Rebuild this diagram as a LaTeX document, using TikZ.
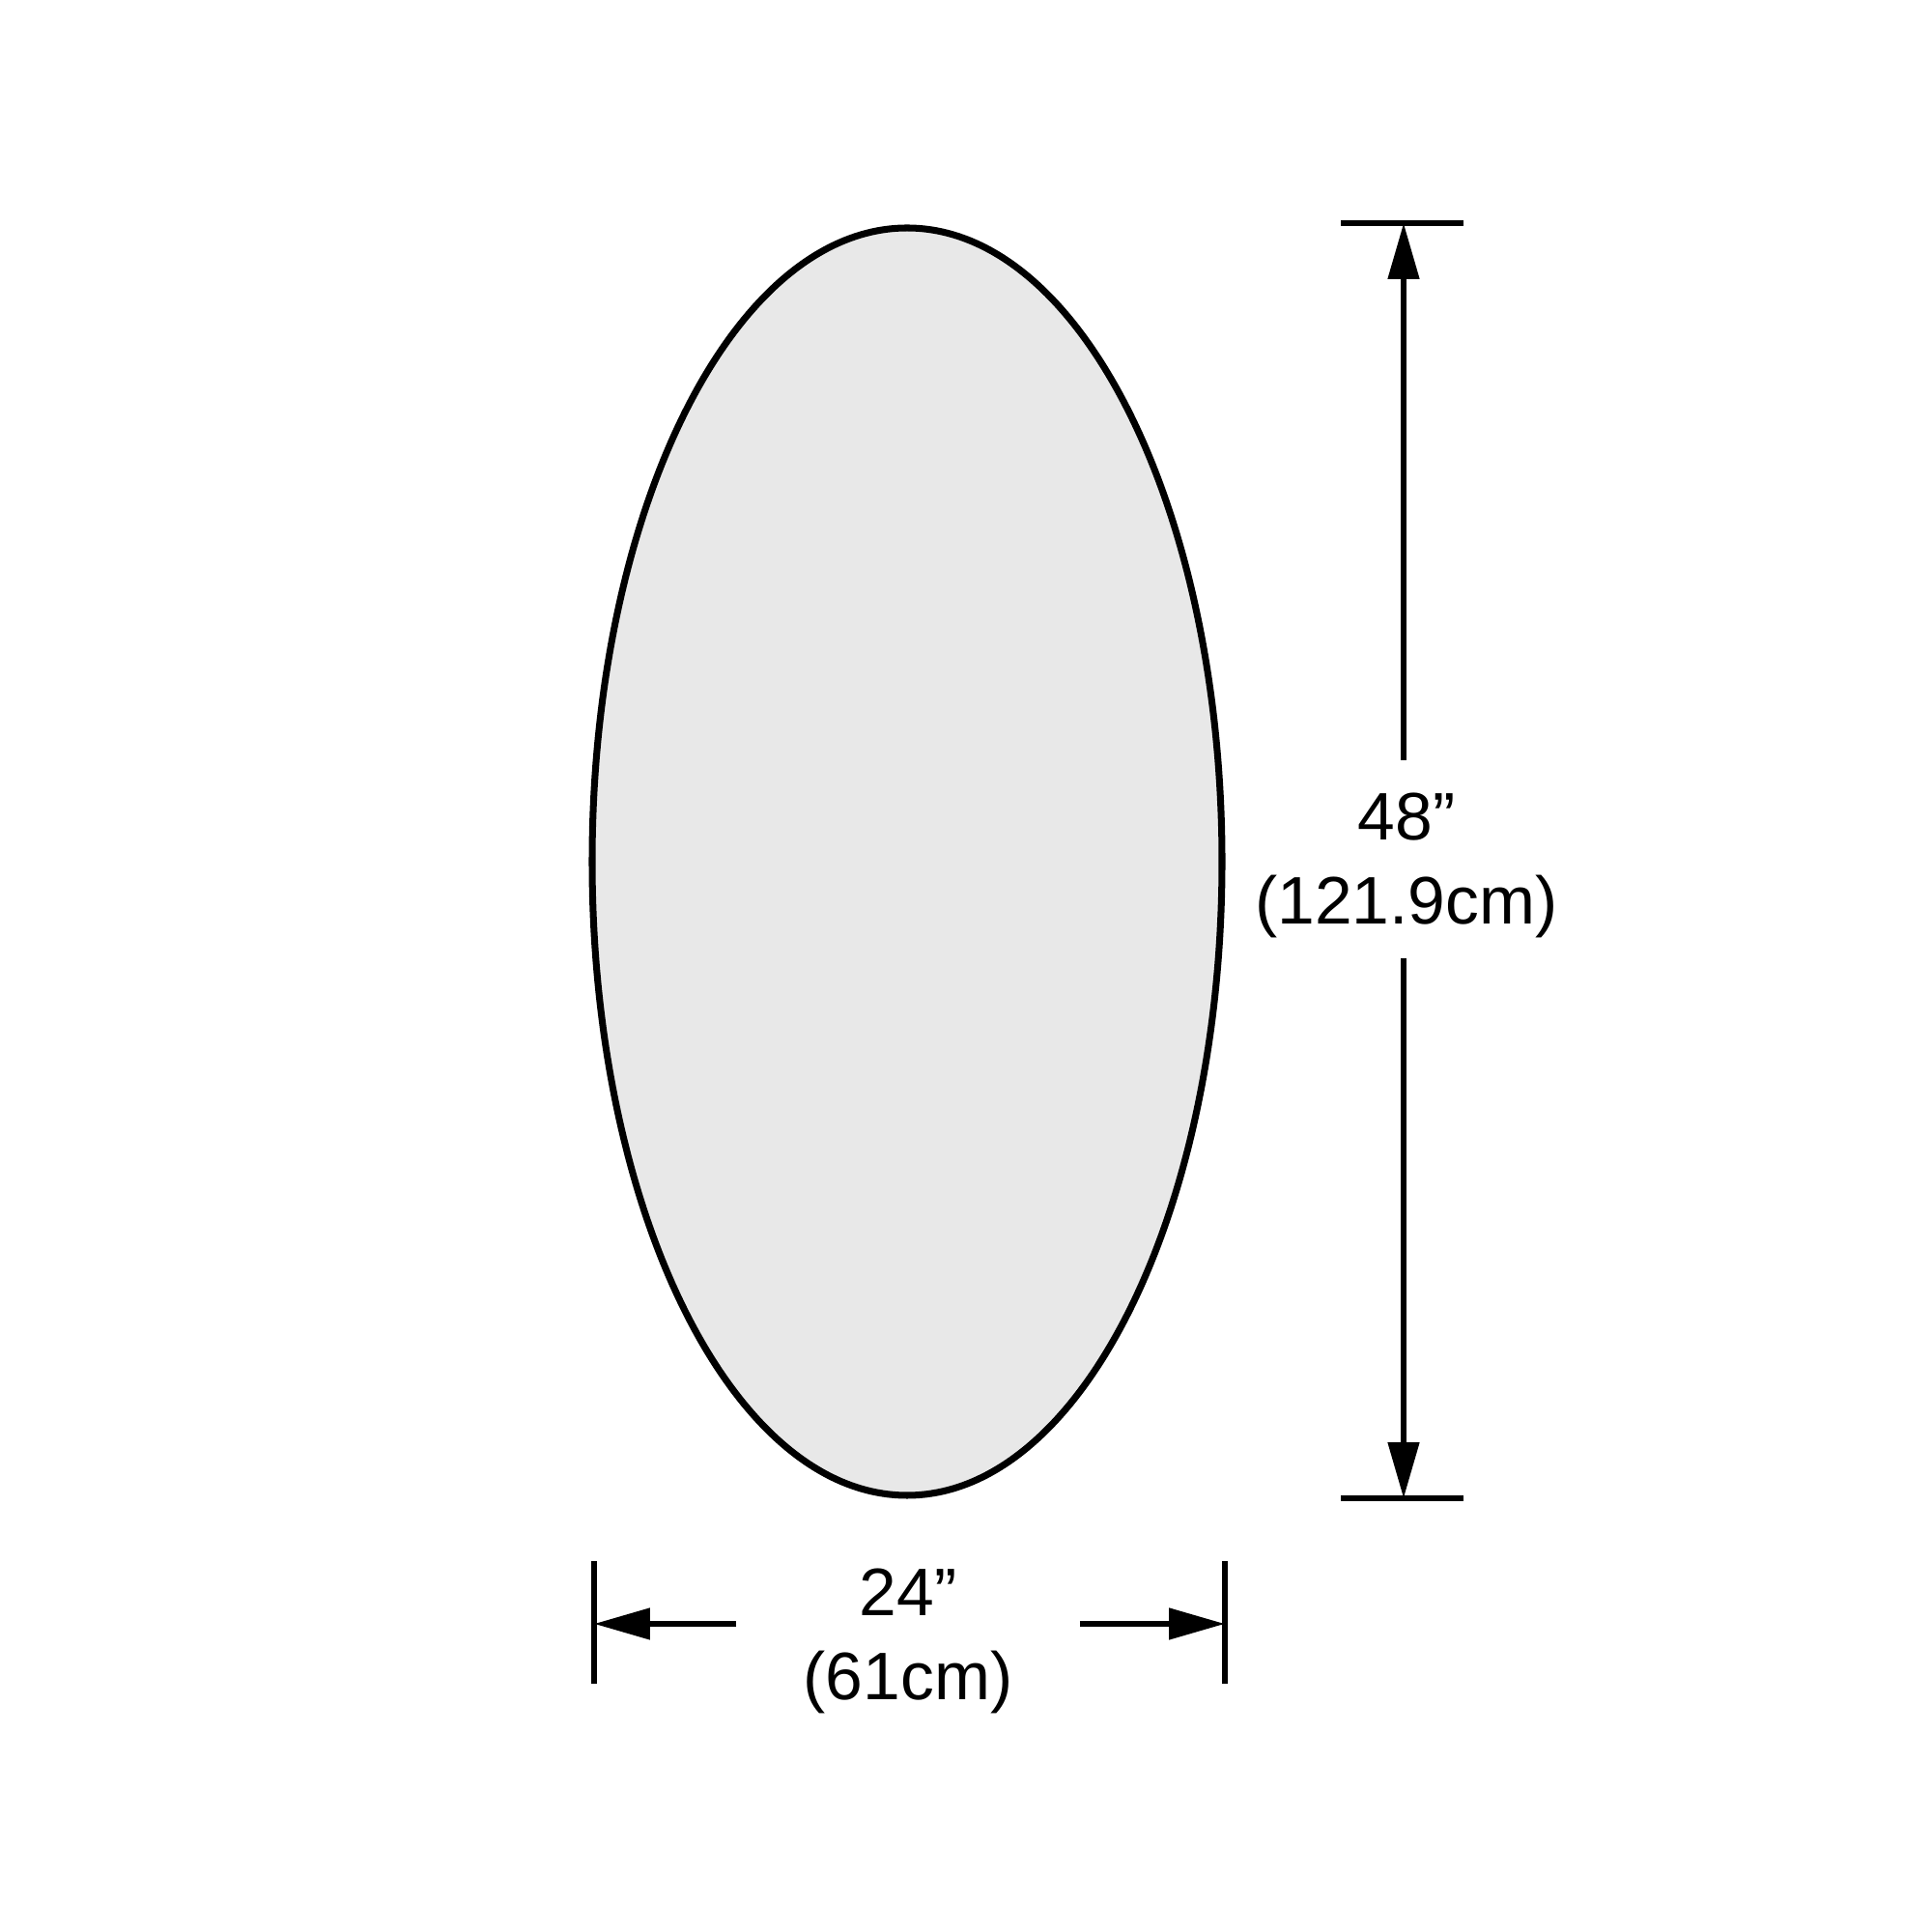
\documentclass[tikz,border=0pt]{standalone}
\usepackage{fontspec}
\setmainfont{Liberation Sans}
\usetikzlibrary{arrows.meta,shapes.geometric,positioning}
\definecolor{mirrorgray}{HTML}{E8E8E8}
\tikzset{
    mirror/.style={draw,ellipse,fill=mirrorgray,line width=2pt,inner sep=0pt,
        minimum width=6.52cm,minimum height=13.12cm},
    dimline/.style={line width=1.7pt,-{Triangle[length=16.5pt,width=9pt]}},
    dimbar/.style={line width=1.7pt},
    dimlabel/.style={align=center,font=\fontsize{19.8}{24.7}\selectfont,
        inner xsep=0pt,inner ysep=0pt},
}

\begin{document}
\begin{tikzpicture}
    \useasboundingbox (0,0) rectangle (20,20);
    \path
        (9.39,11.08)    node[mirror] (mirror) {}
        (14.56,12.13)   node[dimlabel,anchor=north,inner ysep=9.4pt] (vlab) {48”\\(121.9cm)}
        (9.40,3.77)     node[dimlabel,anchor=north,inner xsep=19.6pt] (hlab) {24”\\(61cm)}
        ;
    \coordinate (vt) at (14.53,17.69);
    \coordinate (vb) at (14.53,4.49);
    \coordinate (hl) at (6.15,3.19);
    \coordinate (hr) at (12.68,3.19);
    % height
    \draw[dimbar] ([xshift=-0.65cm]vt) -- ([xshift=0.62cm]vt);
    \draw[dimbar] ([xshift=-0.65cm]vb) -- ([xshift=0.62cm]vb);
    \draw[dimline] (vt |- vlab.north) -- (vt);
    \draw[dimline,shorten <=-3.4pt] (vb |- vlab.south) -- (vb);
    % width
    \draw[dimbar] ([yshift=0.65cm]hl) -- ([yshift=-0.62cm]hl);
    \draw[dimbar] ([yshift=0.65cm]hr) -- ([yshift=-0.62cm]hr);
    \draw[dimline] (hlab.west |- hl) -- (hl);
    \draw[dimline] (hlab.east |- hr) -- (hr);
\end{tikzpicture}
\end{document}
